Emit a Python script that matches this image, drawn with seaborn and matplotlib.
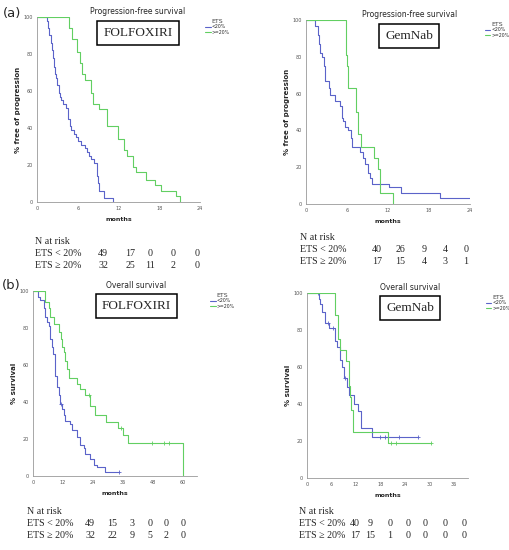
import pandas as pd
import matplotlib
matplotlib.use('Agg')
import matplotlib.pyplot as plt
import seaborn as sns

# ---- data ----
groups = ['<20%', '>=20%']

# (a) progression-free survival, FOLFOXIRI
pfs_folf_lo_t = [0, 1.5, 1.6, 1.8, 2.0, 2.2, 2.4, 2.5, 2.7, 2.8, 3.0, 3.2, 3.4, 3.6, 3.9, 4.3, 4.5, 4.6, 4.8, 5.0,
                 5.4, 5.8, 6.1, 6.5, 7.0, 7.3, 7.6, 8.0, 8.4, 8.8, 8.9, 9.0, 9.1, 9.9, 11.2]
pfs_folf_lo_s = [100, 98, 94, 90, 86, 82, 78, 73, 69, 67, 63, 59, 57, 55, 53, 51, 49, 45, 41, 39,
                 37, 35, 33, 31, 29, 27, 25, 23, 21, 18, 14, 10, 6, 2, 0]
pfs_folf_hi_t = [0, 4.7, 5.2, 5.9, 6.4, 6.6, 7.1, 7.9, 8.3, 9.2, 10.3, 12.0, 12.8, 13.3, 14.2, 14.6, 16.1, 17.4,
                 18.3, 20.5, 21.0]
pfs_folf_hi_s = [100, 94, 88, 81, 75, 69, 66, 59, 53, 50, 41, 34, 28, 25, 19, 16, 12, 9, 6, 3, 0]

# (a) progression-free survival, GemNab
pfs_gem_lo_t = [0, 1.36, 1.75, 1.85, 2.0, 2.3, 2.6, 2.8, 3.3, 3.55, 4.3, 5.0, 5.2, 5.35, 5.7, 6.2, 6.6, 6.7, 7.9,
                8.4, 8.7, 9.1, 9.4, 9.6, 12.1, 13.9, 19.6, 24]
pfs_gem_lo_s = [100, 97, 92, 87, 82, 80, 75, 67, 63, 59, 56, 53, 47, 45, 42, 40, 36, 31, 28,
                25, 22, 17, 14, 11, 9, 6, 3, 3]
pfs_gem_hi_t = [0, 5.85, 5.95, 6.1, 7.3, 7.6, 8.1, 9.9, 10.5, 10.9, 12.8]
pfs_gem_hi_s = [100, 81, 75, 63, 50, 38, 31, 25, 19, 6, 0]

# (b) overall survival, FOLFOXIRI
os_folf_lo_t = [0, 1.9, 2.9, 4.3, 4.9, 5.6, 6.3, 6.7, 7.6, 8.0, 8.7, 8.9, 9.6, 10.3, 10.9, 11.6, 12.3, 12.9, 14.9,
                15.6, 17.6, 18.7, 20.3, 20.9, 22.9, 24.3, 25.6, 28.9, 34.3]
os_folf_lo_s = [100, 97, 95, 91, 86, 83, 81, 74, 70, 66, 59, 54, 48, 44, 39, 36, 33, 30, 28,
                25, 21, 17, 15, 12, 9, 6, 5, 2, 2]
os_folf_hi_t = [0, 4.9, 6.3, 6.9, 8.3, 10.3, 11.2, 11.6, 12.3, 12.9, 13.6, 14.3, 17.6, 18.9, 20.9, 22.9, 24.9,
                29.3, 33.9, 36.0, 38.0, 60]
os_folf_hi_s = [100, 94, 91, 86, 82, 78, 74, 70, 67, 62, 58, 53, 50, 47, 44, 38, 33, 29, 26, 22, 18, 0]
os_folf_lo_cens_t = [11.3, 34.3]
os_folf_lo_cens_s = [39, 2]
os_folf_hi_cens_t = [22.3, 35.2, 47.6, 52.3, 54.3]
os_folf_hi_cens_s = [44, 26, 18, 18, 18]

# (b) overall survival, GemNab
os_gem_lo_t = [0, 2.85, 3.3, 3.7, 4.3, 5.5, 6.8, 7.3, 8.1, 8.6, 9.1, 9.8, 10.4, 11.6, 12.6, 13.2, 15.9, 27.1]
os_gem_lo_s = [100, 97, 94, 90, 84, 81, 74, 71, 64, 60, 54, 49, 45, 40, 36, 27, 22, 22]
os_gem_hi_t = [0, 6.9, 7.6, 8.1, 9.5, 10.2, 10.4, 10.6, 10.8, 11.2, 19.8, 30.4]
os_gem_hi_s = [100, 88, 75, 69, 63, 56, 50, 44, 37, 25, 19, 19]
os_gem_lo_cens_t = [2.6, 5.1, 6.3, 9.4, 17.9, 19.0, 22.4, 27.1]
os_gem_lo_cens_s = [100, 84, 81, 54, 22, 22, 22, 22]
os_gem_hi_cens_t = [20.6, 21.7, 30.4]
os_gem_hi_cens_s = [19, 19, 19]

# number at risk tables
risk_label = ['ETS < 20%', 'ETS \u2265 20%']
risk_pfs_folf = [[49, 17, 0, 0, 0], [32, 25, 11, 2, 0]]
risk_pfs_gem = [[40, 26, 9, 4, 0], [17, 15, 4, 3, 1]]
risk_os_folf = [[49, 15, 3, 0, 0, 0], [32, 22, 9, 5, 2, 0]]
risk_os_gem = [[40, 9, 0, 0, 0, 0, 0], [17, 15, 1, 0, 0, 0, 0]]

# ---- style ----
sns.set_style('white')
plt.rcParams['font.family'] = ['DejaVu Sans']
colors = {'<20%': '#5b63c9', '>=20%': '#62cf62'}
SERIF = 'Liberation Serif'
W, H = 510, 550

fig = plt.figure(figsize=(W / 100, H / 100), dpi=100)


def px_axes(x0, y0, x1, y1):
    return fig.add_axes([x0 / W, 1 - y1 / H, (x1 - x0) / W, (y1 - y0) / H])


def km_panel(box, lo_t, lo_s, hi_t, hi_s, xmax, xticks, title, drug, ylabel,
             cens=None, leg_x=1.08, box_xy=(0.62, 0.92)):
    ax = px_axes(*box)
    df = pd.concat([
        pd.DataFrame({'months': lo_t, 'surv': lo_s, 'ETS': groups[0]}),
        pd.DataFrame({'months': hi_t, 'surv': hi_s, 'ETS': groups[1]}),
    ])
    sns.lineplot(data=df, x='months', y='surv', hue='ETS', palette=colors,
                 drawstyle='steps-post', estimator=None, linewidth=0.8, ax=ax)
    if cens is not None:
        for g, (ct, cs) in zip(groups, cens):
            sns.scatterplot(x=ct, y=cs, marker='+', color=colors[g], s=12,
                            linewidth=0.6, ax=ax, legend=False)
    ax.set_xlim(0, xmax)
    ax.set_ylim(0, 100)
    ax.set_xticks(xticks)
    ax.set_yticks([0, 20, 40, 60, 80, 100])
    ax.tick_params(labelsize=3.5, length=2, width=0.5, colors='#555555', pad=1)
    for s in ['top', 'right']:
        ax.spines[s].set_visible(False)
    for s in ['left', 'bottom']:
        ax.spines[s].set_color('#999999')
        ax.spines[s].set_linewidth(0.6)
    ax.set_xlabel('months', fontsize=4.5, fontweight='bold')
    ax.set_ylabel(ylabel, fontsize=5, fontweight='bold')
    ax.xaxis.set_label_coords(0.5, -0.08)
    ax.yaxis.set_label_coords(-0.1, 0.5)
    ax.text(box_xy[0], 1.005, title, transform=ax.transAxes, ha='center', va='bottom',
            fontsize=5.5)
    ax.text(box_xy[0], box_xy[1], drug, transform=ax.transAxes, ha='center', va='center',
            family=SERIF, fontsize=9.5,
            bbox=dict(boxstyle='square,pad=0.45', fc='white', ec='black', lw=1.1))
    leg = ax.legend(title='ETS', loc='upper left', bbox_to_anchor=(leg_x, 1.0),
                    frameon=False, fontsize=3.3, title_fontsize=4.5,
                    handlelength=1.2, handletextpad=0.2, labelspacing=0.1,
                    borderaxespad=0)
    leg.get_title().set_color('#444444')
    return ax


def risk_table(x_label, y_top, cols, rows):
    fs = 7.2
    fig.text(x_label / W, 1 - y_top / H, 'N at risk', family=SERIF, fontsize=fs,
             ha='left', va='center')
    for r, (name, vals) in enumerate(zip(risk_label, rows)):
        yy = 1 - (y_top + 12 * (r + 1)) / H
        fig.text(x_label / W, yy, name, family=SERIF, fontsize=fs, ha='left', va='center')
        for cx, v in zip(cols, vals):
            fig.text(cx / W, yy, str(v), family=SERIF, fontsize=fs, ha='center', va='center')


km_panel((37, 17, 200, 202), pfs_folf_lo_t, pfs_folf_lo_s, pfs_folf_hi_t, pfs_folf_hi_s,
         24, [0, 6, 12, 18, 24], 'Progression-free survival', 'FOLFOXIRI',
         '% free of progression', leg_x=1.02, box_xy=(0.62, 0.915))
km_panel((306, 20, 470, 204), pfs_gem_lo_t, pfs_gem_lo_s, pfs_gem_hi_t, pfs_gem_hi_s,
         24, [0, 6, 12, 18, 24], 'Progression-free survival', 'GemNab',
         '% free of progression', leg_x=1.08, box_xy=(0.63, 0.915))
km_panel((33, 291, 197, 476), os_folf_lo_t, os_folf_lo_s, os_folf_hi_t, os_folf_hi_s,
         65.6, [0, 12, 24, 36, 48, 60], 'Overall survival', 'FOLFOXIRI', '% survival',
         cens=[(os_folf_lo_cens_t, os_folf_lo_cens_s), (os_folf_hi_cens_t, os_folf_hi_cens_s)],
         leg_x=1.07, box_xy=(0.63, 0.92))
km_panel((307, 293, 468, 478), os_gem_lo_t, os_gem_lo_s, os_gem_hi_t, os_gem_hi_s,
         39.4, [0, 6, 12, 18, 24, 30, 36], 'Overall survival', 'GemNab', '% survival',
         cens=[(os_gem_lo_cens_t, os_gem_lo_cens_s), (os_gem_hi_cens_t, os_gem_hi_cens_s)],
         leg_x=1.10, box_xy=(0.64, 0.92))

risk_table(35, 241, [103, 130, 150, 173, 197], risk_pfs_folf)
risk_table(300, 238, [377, 400, 424, 445, 466], risk_pfs_gem)
risk_table(27, 512, [90, 112, 132, 150, 166, 183], risk_os_folf)
risk_table(299, 511, [355, 370, 390, 408, 425, 445, 464], risk_os_gem)

fig.text(3 / W, 1 - 13 / H, '(a)', fontsize=9.5, va='center')
fig.text(2 / W, 1 - 285 / H, '(b)', fontsize=9.5, va='center')

fig.savefig('out.png', dpi=100)
